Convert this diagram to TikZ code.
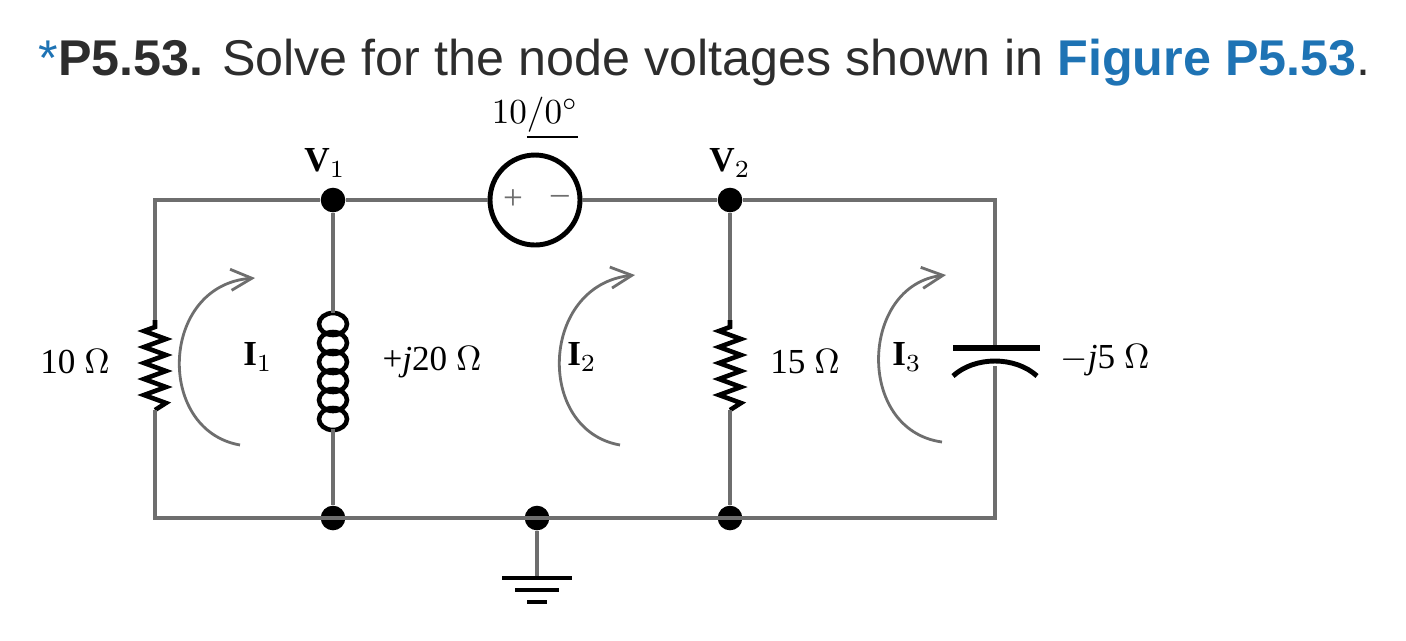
\documentclass[tikz,border=0pt]{standalone}
\usepackage{fontspec}
\setmainfont{Liberation Serif}
\newfontfamily\titlefont{Liberation Sans}
\usetikzlibrary{arrows.meta,calc}
\definecolor{figblue}{RGB}{30,115,180}
\definecolor{titlegray}{RGB}{45,45,45}
\definecolor{wiregray}{RGB}{110,110,110}
\tikzset{
  wire/.style={draw=wiregray,line width=1.2pt},
  dot/.style={circle,fill=black,inner sep=0pt,minimum size=7pt},
  lbl/.style={font=\fontsize{10}{12}\selectfont},
  mesh/.style={draw=wiregray,line width=0.8pt,-{Straight Barb[length=6pt,width=6pt]}},
  pics/resistor/.style={code={
    \draw[line width=1.3pt] (0,0.45) -- (0,0.38) -- (-0.11,0.34)
      -- (0.11,0.26) -- (-0.11,0.18) -- (0.11,0.10) -- (-0.11,0.02)
      -- (0.11,-0.06) -- (-0.11,-0.14) -- (0.11,-0.22) -- (-0.11,-0.30)
      -- (0.11,-0.38) -- (0,-0.45);}},
  pics/coil/.style={code={
    \foreach \k in {0,...,5}
      \draw[line width=1.3pt] (0,0.48-0.19*\k) ellipse (0.14 and 0.11);}}
}
\begin{document}
\begin{tikzpicture}[x=1cm,y=1cm]
\useasboundingbox (0,0) rectangle (14.06,-6.40);
% title
\node[anchor=base west,inner sep=0pt,text=titlegray,font=\titlefont\fontsize{14.3}{17}\selectfont] (title) at (0.38,-0.75)
  {\textcolor{figblue}{*}\textbf{P5.53.} Solve for the node voltages shown in \textcolor{figblue}{\textbf{Figure P5.53}}.};
% nodes
\coordinate (TL) at (1.55,-2.00);
\node[dot] (V1) at (3.33,-2.00) {};
\node[draw,circle,line width=1.4pt,minimum size=0.9cm] (src) at (5.35,-2.00) {};
\node[dot] (V2) at (7.30,-2.00) {};
\coordinate (TR) at (9.95,-2.00);
\coordinate (BL) at (1.55,-5.18);
\node[dot] (B1) at (3.33,-5.18) {};
\node[dot] (G) at (5.37,-5.18) {};
\node[dot] (B2) at (7.30,-5.18) {};
\coordinate (BR) at (9.95,-5.18);
\coordinate (gnd) at (5.37,-5.78);
% components
\coordinate (R1) at (1.55,-3.65);
\coordinate (L1) at (3.33,-3.72);
\coordinate (R2) at (7.30,-3.65);
\coordinate (C1) at (9.95,-3.54);
\pic at (R1) {resistor};
\pic at (L1) {coil};
\pic at (R2) {resistor};
% wires
\path[wire] (V1) -- (src.west) (src.east) -- (V2) -- (TR) -- ($(C1)+(0,0.06)$)
  (V1) -- (TL) -- ($(R1)+(0,0.45)$);
\path[wire] ($(R1)+(0,-0.45)$) -- (BL) -- (BR) -- ($(C1)+(0,-0.12)$);
\path[wire] (V1) -- ($(L1)+(0,0.59)$) ($(L1)+(0,-0.57)$) -- (B1);
\path[wire] (V2) -- ($(R2)+(0,0.45)$) ($(R2)+(0,-0.45)$) -- (B2);
\path[wire] (G) -- (gnd);
% capacitor
\draw[line width=1.8pt] ($(C1)+(-0.42,0.06)$) -- ($(C1)+(0.45,0.06)$);
\draw[line width=1.4pt] ($(C1)+(-0.42,-0.22)$) .. controls ($(C1)+(-0.2,-0.02)$) and ($(C1)+(0.2,-0.02)$) .. ($(C1)+(0.42,-0.22)$);
% ground
\draw[line width=1.3pt] ($(gnd)+(-0.35,0)$) -- ($(gnd)+(0.35,0)$)
  ($(gnd)+(-0.22,-0.12)$) -- ($(gnd)+(0.22,-0.12)$)
  ($(gnd)+(-0.10,-0.24)$) -- ($(gnd)+(0.10,-0.24)$);
% source signs
\node[lbl,text=wiregray] at ($(src)+(-0.22,0)$) {+};
\node[lbl,text=wiregray] at ($(src)+(0.25,0)$) {--};
% labels
\node[lbl] at (3.25,-1.63) {$\mathbf{V}_1$};
\node[lbl] at (7.30,-1.63) {$\mathbf{V}_2$};
\node[lbl] at (5.35,-1.18) {$10\underline{/0^\circ}$};
\node[lbl] at (0.75,-3.62) {10 $\Omega$};
\node[lbl] at (4.32,-3.62) {+\textit{j}20 $\Omega$};
\node[lbl] at (8.05,-3.62) {15 $\Omega$};
\node[lbl] at (11.05,-3.60) {$-$\textit{j}5 $\Omega$};
\node[lbl] at (2.58,-3.57) {$\mathbf{I}_1$};
\node[lbl] at (5.82,-3.57) {$\mathbf{I}_2$};
\node[lbl] at (9.07,-3.57) {$\mathbf{I}_3$};
% mesh currents
\draw[mesh] (2.40,-4.45) .. controls (1.55,-4.30) and (1.60,-2.85) .. (2.55,-2.78);
\draw[mesh] (6.20,-4.45) .. controls (5.35,-4.30) and (5.40,-2.85) .. (6.35,-2.75);
\draw[mesh] (9.42,-4.42) .. controls (8.55,-4.30) and (8.60,-2.85) .. (9.46,-2.75);
\end{tikzpicture}
\end{document}
